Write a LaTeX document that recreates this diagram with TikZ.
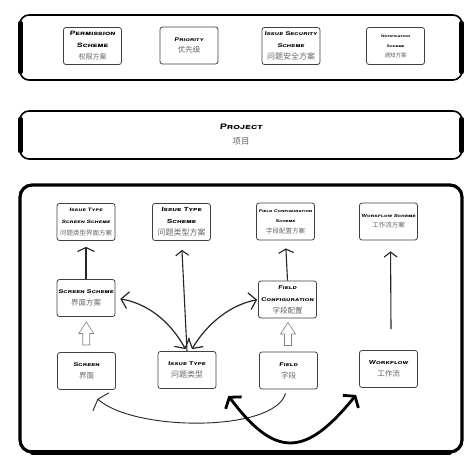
\documentclass[tikz,border=0pt]{standalone}
\usepackage{fontspec}
\setmainfont{TeX Gyre Heros}
\newfontfamily\hand[FakeStretch=1.4,FakeSlant=0.12]{TeX Gyre Heros}
\newfontfamily\cjk{Noto Sans CJK SC}
\usetikzlibrary{arrows.meta,calc}
\newcommand{\en}[1]{\hand\fontsize{#1}{10}\selectfont\bfseries\scshape}
\newcommand{\zh}[2]{{\cjk\fontsize{#1}{10}\selectfont\color{black!60}#2}}
\begin{document}
\begin{tikzpicture}[x=1pt,y=-1pt,
  box/.style={draw=black!75, line width=0.8pt, rounded corners=2.5pt, minimum width=58pt,
    minimum height=37pt, align=center, inner sep=1pt, text=black},
  container/.style={draw=black, line width=1.6pt, rounded corners=9pt},
  side/.style={line width=4.8pt, line cap=round},
  arr/.style={draw=black!85, line width=1.1pt, -{Straight Barb[length=5pt,width=13pt]}},
  dbl/.style={draw=black!85, line width=1.2pt,
    {Straight Barb[length=7pt,width=17pt]}-{Straight Barb[length=7pt,width=17pt]}},
  thincurve/.style={draw=black!85, line width=0.9pt},
  thickcurve/.style={draw=black, line width=2.8pt, line cap=round,
    {Straight Barb[length=7pt,width=20pt]}-{Straight Barb[length=7pt,width=20pt]}},
  pics/hollowup/.style={code={\draw[black!50, line width=0.6pt, fill=white, line join=round]
    (-3.5,11.5) -- (-3.5,0) -- (-7.5,0) -- (0,-11.5) -- (7.5,0) -- (3.5,0) -- (3.5,11.5) -- cycle;}}
]
\useasboundingbox (0,0) rectangle (474,470);
\fill[white] (0,0) rectangle (474,470);

% containers
\node[container, minimum width=442pt, minimum height=65pt] (top) at (241,47.5) {};
\draw[side] ($(top.north west)+(1,9)$) -- ($(top.south west)+(1,-9)$);
\draw[side] ($(top.north east)+(-1,9)$) -- ($(top.south east)+(-1,-9)$);
\node[container, minimum width=442pt, minimum height=48pt, align=center] (proj) at (241,135)
  {{\en{7.5}Project}\\[3pt]\zh{8.5}{项目}};
\draw[side] ($(proj.north west)+(1,9)$) -- ($(proj.south west)+(1,-9)$);
\draw[side] ($(proj.north east)+(-1,9)$) -- ($(proj.south east)+(-1,-9)$);
\node[container, line width=3.2pt, rounded corners=12pt, minimum width=442pt, minimum height=267pt] (bot) at (241,318.5) {};
\draw[line width=5pt, line cap=round] ($(bot.south west)+(14,-1)$) -- ($(bot.south east)+(-14,-1)$);

% top row
\node[box] (perm) at (92.5,46) {{\en{6}Permission}\\{\en{6}Scheme}\\\zh{7}{权限方案}};
\node[box] (prio) at (189,45.5) {{\en{5}Priority}\\\zh{7.5}{优先级}};
\node[box] (sec) at (291,46) {{\en{5.2}Issue Security}\\{\en{5.2}Scheme}\\\zh{8}{问题安全方案}};
\node[box] (notif) at (395.5,46) {{\en{3.4}Notification}\\[-2pt]{\en{3.4}Scheme}\\[-2pt]\zh{5.5}{通知方案}};

% bottom container, row 1
\node[box] (itss) at (86,222) {{\en{4.6}Issue Type}\\{\en{4.6}Screen Scheme}\\\zh{6.5}{问题类型界面方案}};
\node[box] (its) at (181.5,222) {{\en{5.6}Issue Type}\\{\en{5.6}Scheme}\\\zh{8}{问题类型方案}};
\node[box] (fcs) at (285.5,221.5) {{\en{3.8}Field Configuration}\\[-2pt]{\en{3.8}Scheme}\\[-1pt]\zh{6.5}{字段配置方案}};
\node[box] (wfs) at (388.5,221.5) {{\en{4.2}Workflow Scheme}\\[-2pt]\zh{6.5}{工作流方案}};

% row 2
\node[box] (ss) at (86,298) {{\en{5.2}Screen Scheme}\\\zh{7.5}{界面方案}};
\node[box] (fc) at (287.5,299.5) {{\en{5.2}Field}\\{\en{5.2}Configuration}\\\zh{7.5}{字段配置}};

% row 3
\node[box] (scr) at (86.5,371) {{\en{5.2}Screen}\\\zh{7.5}{界面}};
\node[box] (it) at (187,370) {{\en{5.2}Issue Type}\\\zh{8}{问题类型}};
\node[box] (fld) at (288.5,370.5) {{\en{5.2}Field}\\\zh{7.5}{字段}};
\node[box] (wf) at (388.5,369) {{\en{5.4}Workflow}\\\zh{7.5}{工作流}};

% straight arrows
\draw[arr, -{Straight Barb[length=4pt,width=17pt]}, shorten >=6pt] (ss.north) -- (itss.south);
\draw[arr, shorten >=9pt] (it.north) -- (its.south);
\draw[arr, -{Straight Barb[length=4pt,width=15pt]}, shorten >=8pt] (fc.north) -- (fcs.south);
\coordinate (wfstart) at ($(wf.north)+(2.5,-21)$);
\draw[arr, shorten >=11pt] (wfstart) -- ($(wfs.south)+(2,0)$);

% hollow arrows
\pic at ($(scr.north)!0.5!(ss.south)+(0,-1)$) {hollowup};
\pic at ($(fld.north)!0.5!(fc.south)+(0,-1)$) {hollowup};

% double curved arrows
\draw[dbl, shorten <=5pt] (ss.east) .. controls (155,305) and (175,330) .. ($(it.north)+(-1.5,-2)$);
\draw[dbl, shorten <=1pt] (fc.west) .. controls (225,306) and (203,330) .. ($(it.north)+(5,-2)$);

% bottom curves
\draw[thincurve, -{Straight Barb[length=4pt,width=24pt]}] ($(fld.south)+(-3,4)$) .. controls (275,432) and (135,432) .. ($(scr.south)+(11,9)$);
\draw[thickcurve] ($(it.south east)+(12,7)$) .. controls (275,458) and (305,458) .. ($(wf.south west)+(-3,7)$);
\end{tikzpicture}
\end{document}
